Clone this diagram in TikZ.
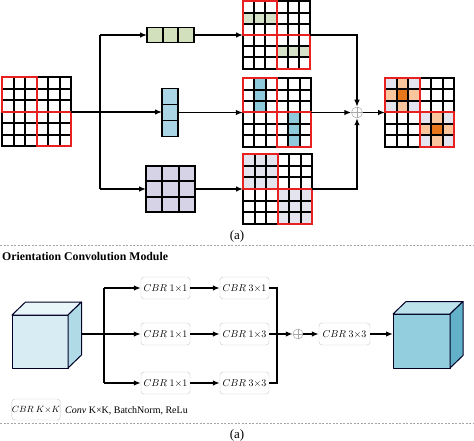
\documentclass[tikz,border=0pt]{standalone}
\usepackage{fontspec}
\setmainfont{Liberation Serif}
\usetikzlibrary{arrows.meta,calc}
\definecolor{redc}{HTML}{E82020}
\definecolor{greenK}{HTML}{D3E0BE}
\definecolor{greenG}{HTML}{D6E2C8}
\definecolor{blueK}{HTML}{A9D5E5}
\definecolor{blueG}{HTML}{8FC9DC}
\definecolor{purpK}{HTML}{D7D3E6}
\definecolor{lavG}{HTML}{E4E4EE}
\definecolor{orC}{HTML}{E8761A}
\definecolor{orE}{HTML}{F9C59C}
\definecolor{cubeLf}{HTML}{D8EDF3}
\definecolor{cubeLt}{HTML}{E8F5F9}
\definecolor{cubeLs}{HTML}{B0DAE6}
\definecolor{cubeRf}{HTML}{92CEDE}
\definecolor{cubeRt}{HTML}{BCE2EC}
\definecolor{cubeRs}{HTML}{62B1C8}
\newcommand\fc[3]{\fill[#3] ({(#1)*\cz},{(#2)*\cz}) rectangle ++(\cz,\cz);}
\newcommand\sixgrid[3]{%
 \begin{scope}[shift={(#1.north west)}]
  \def\cz{#2}
  #3
  \foreach \k in {1,...,5}{\draw[gl] ({\k*#2},0) -- ({\k*#2},{6*#2}); \draw[gl] (0,{\k*#2}) -- ({6*#2},{\k*#2});}
  \draw[gl] (0,0) rectangle ({6*#2},{6*#2});
  \draw[rb] (0,0) rectangle ({3*#2},{3*#2});
  \draw[rb] ({3*#2},{3*#2}) rectangle ({6*#2},{6*#2});
 \end{scope}}
\newcommand\outblock[2]{%
  \fc{#1}{#2}{lavG}\fc{#1+2}{#2}{lavG}\fc{#1}{#2+2}{lavG}\fc{#1+2}{#2+2}{lavG}
  \fc{#1+1}{#2}{orE}\fc{#1}{#2+1}{orE}\fc{#1+2}{#2+1}{orE}\fc{#1+1}{#2+2}{orE}
  \fc{#1+1}{#2+1}{orC}}
\begin{document}
\begin{tikzpicture}[x=1pt,y=-1pt,
  gl/.style={line width=2pt,black},
  rb/.style={line width=2pt,redc},
  gridbox/.style={inner sep=0pt,outer sep=0pt,minimum size=#1,draw=none},
  kbox/.style={inner sep=0pt,outer sep=0pt,draw=black,line width=1.8pt},
  arr/.style={-{Latex[length=7pt,width=5.5pt]},line width=1.2pt},
  ln/.style={line width=1.2pt},
  arrb/.style={-{Latex[length=7pt,width=5.5pt]},line width=1.5pt},
  lnb/.style={line width=1.5pt},
  cbr/.style={draw=gray!45,rounded corners=3pt,minimum width=49pt,minimum height=22pt,inner sep=0pt,text=black,font=\fontsize{10}{12}\selectfont},
  plusc/.style={circle,draw=gray!70,line width=0.5pt,minimum size=#1,inner sep=0pt},
  cubeedge/.style={draw=black!85!blue,line width=1pt,line join=round},
  dsh/.style={draw=gray!70,line width=0.5pt,dash pattern=on 2pt off 1.5pt},
  captxt/.style={font=\fontsize{13}{15}\selectfont,inner sep=0pt}
]
\useasboundingbox (0,0) rectangle (474,441);
% ---------- upper part ----------
\node[gridbox=69pt] (gin) at (36.5,112) {};
\node[gridbox=67.2pt] (gtop) at (276.6,35) {};
\node[gridbox=68.4pt] (gmid) at (277,112.5) {};
\node[gridbox=69pt] (gbot) at (277.5,189) {};
\node[gridbox=69pt] (gout) at (419.5,112.5) {};
\sixgrid{gin}{11.5}{}
\sixgrid{gtop}{11.2}{\foreach \i in {0,1,2}{\fc{\i}{1}{greenG}} \foreach \i in {3,4,5}{\fc{\i}{4}{greenG}}}
\sixgrid{gmid}{11.4}{\foreach \j in {0,1,2}{\fc{1}{\j}{blueG}} \foreach \j in {3,4,5}{\fc{4}{\j}{blueG}}}
\sixgrid{gbot}{11.5}{\foreach \i in {0,1,2}{\foreach \j in {0,1,2}{\fc{\i}{\j}{lavG}\fc{\i+3}{\j+3}{lavG}}}}
\sixgrid{gout}{11.5}{\outblock{0}{0}\outblock{3}{3}}
% kernels
\node[kbox,fill=greenK,minimum width=47pt,minimum height=15pt] (kg) at (170.5,35) {};
\draw[line width=1.8pt] ($(kg.north west)!1/3!(kg.north east)$) -- ($(kg.south west)!1/3!(kg.south east)$)
  ($(kg.north west)!2/3!(kg.north east)$) -- ($(kg.south west)!2/3!(kg.south east)$);
\node[kbox,fill=blueK,minimum width=16pt,minimum height=48pt] (kb) at (170,112.5) {};
\draw[line width=1.8pt] ($(kb.north west)!1/3!(kb.south west)$) -- ($(kb.north east)!1/3!(kb.south east)$)
  ($(kb.north west)!2/3!(kb.south west)$) -- ($(kb.north east)!2/3!(kb.south east)$);
\node[kbox,fill=purpK,minimum width=49pt,minimum height=46pt] (kp) at (170.5,189) {};
\draw[line width=1.8pt] ($(kp.north west)!1/3!(kp.north east)$) -- ($(kp.south west)!1/3!(kp.south east)$)
  ($(kp.north west)!2/3!(kp.north east)$) -- ($(kp.south west)!2/3!(kp.south east)$)
  ($(kp.north west)!1/3!(kp.south west)$) -- ($(kp.north east)!1/3!(kp.south east)$)
  ($(kp.north west)!2/3!(kp.south west)$) -- ($(kp.north east)!2/3!(kp.south east)$);
% connectors
\coordinate (bt) at (100,35);
\coordinate (bb) at (100,189);
\draw[ln] (bt) -- (bb);
\draw[arr] (gin.east) -- (gin.east -| kb.west);
\draw[arr] (bt) -- (kg.west);
\draw[arr] (bb) -- (kp.west);
\draw[arr] (kg.east) -- (kg.east -| gtop.west);
\draw[arr] (kb.east) -- (kb.east -| gmid.west);
\draw[arr] (kp.east) -- (kp.east -| gbot.west);
\node[plusc=11pt] (sum1) at (357,112.5) {};
\draw[gray!70,line width=0.5pt] (sum1.north) -- (sum1.south) (sum1.west) -- (sum1.east);
\draw[arr] (gtop.east) -| (sum1.north);
\draw[arr] (gmid.east) -- (sum1.west);
\draw[arr] (gbot.east) -| (sum1.south);
\draw[arr] (sum1.east) -- (gout.west);
\node[captxt] (capA) at (237,236) {(a)};
% ---------- lower part ----------
\draw[dsh] (0,245) -- (474,245);
\draw[dsh] (0,423) -- (474,423);
\node[anchor=west,inner sep=0pt,font=\bfseries\fontsize{11.8}{14}\selectfont] (title) at (2,256) {Orientation Convolution Module};
% cubes
\node[cubeedge,fill=cubeLf,minimum width=56pt,minimum height=53pt,inner sep=0pt,outer sep=0pt] (cL) at (40,341.5) {};
\draw[cubeedge,fill=cubeLt] (cL.north west) -- ++(13.5,-13) -- ++(56,0) -- (cL.north east) -- cycle;
\draw[cubeedge,fill=cubeLs] (cL.north east) -- ++(13.5,-13) -- ++(0,53) -- (cL.south east) -- cycle;
\node[cubeedge,fill=cubeRf,minimum width=57pt,minimum height=54pt,inner sep=0pt,outer sep=0pt] (cR) at (421.5,341) {};
\draw[cubeedge,fill=cubeRt] (cR.north west) -- ++(13,-12.5) -- ++(57,0) -- (cR.north east) -- cycle;
\draw[cubeedge,fill=cubeRs] (cR.north east) -- ++(13,-12.5) -- ++(0,54) -- (cR.south east) -- cycle;
\coordinate (cLout) at ($(cL.east)+(13.5,-6.5)$);
% CBR boxes
\node[cbr] (c11) at (165.5,288) {$CBR\ 1{\times}1$};
\node[cbr] (c12) at (165.5,334) {$CBR\ 1{\times}1$};
\node[cbr] (c13) at (165.5,383) {$CBR\ 1{\times}1$};
\node[cbr] (c21) at (244.5,288) {$CBR\ 3{\times}1$};
\node[cbr] (c22) at (244.5,334) {$CBR\ 1{\times}3$};
\node[cbr] (c23) at (244.5,383) {$CBR\ 3{\times}3$};
\node[plusc=10pt] (sum2) at (298,334) {};
\draw[gray!70,line width=0.5pt] (sum2.north) -- (sum2.south) (sum2.west) -- (sum2.east);
\node[cbr,minimum width=51pt] (c3) at (344.5,334) {$CBR\ 3{\times}3$};
\coordinate (b2t) at (104,288);
\coordinate (b2b) at (104,383);
\coordinate (jx) at (277,334);
\draw[lnb] (b2t) -- (b2b);
\draw[arrb] (c12.west -| cLout) -- (c12.west);
\draw[arrb] (b2t) -- (c11.west);
\draw[arrb] (b2b) -- (c13.west);
\draw[arrb] (c11.east) -- (c21.west);
\draw[arrb] (c12.east) -- (c22.west);
\draw[arrb] (c13.east) -- (c23.west);
\draw[lnb] (c21.east) -- (c21.east -| jx) -- (c23.east -| jx) -- (c23.east);
\draw[arrb] (c22.east) -- (sum2.west);
\draw[arrb] (sum2.east) -- (c3.west);
\draw[arrb] (c3.east) -- (c3.east -| cR.west);
% legend
\node[cbr,minimum width=48pt,minimum height=21pt,font=\fontsize{9}{11}\selectfont] (leg) at (36,409.5) {$CBR\ K{\times}K$};
\node[anchor=west,inner sep=0pt,font=\fontsize{10}{12}\selectfont] (legt) at (65,411) {\textit{Conv} K×K, BatchNorm, ReLu};
\node[captxt] (capB) at (237,435) {(a)};
\end{tikzpicture}
\end{document}
